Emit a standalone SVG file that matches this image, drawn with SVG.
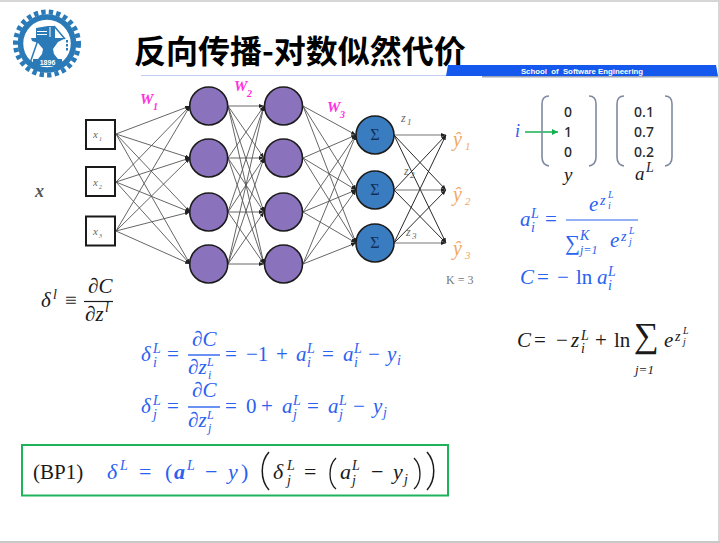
<svg xmlns="http://www.w3.org/2000/svg" width="720" height="543" viewBox="0 0 720 543">
<defs>
<marker id="ah" markerWidth="6" markerHeight="5" refX="5" refY="2" orient="auto" markerUnits="userSpaceOnUse"><path d="M0,0L5,2L0,4z" fill="#222"/></marker>
<marker id="gh" markerWidth="7" markerHeight="7" refX="6" refY="3" orient="auto" markerUnits="userSpaceOnUse"><path d="M0,0L6,3L0,6z" fill="#14b050"/></marker>
</defs>
<style>
text{font-family:"Liberation Serif","DejaVu Serif",serif}
.m{font-style:italic;font-size:21px}
.s{font-style:italic;font-size:14px}
.b{fill:#2a62f0}
.k{fill:#1a1a1a}
.r{font-style:normal}
.w{font-style:italic;font-weight:bold;font-size:15px;fill:#ff30e0}
.ws{font-style:italic;font-weight:bold;font-size:10px;fill:#ff30e0}
.sq{fill:#fff;stroke:#1a1a1a;stroke-width:2}
.p{fill:#8a72bd;stroke:#1c1c1c;stroke-width:1.6}
.u{fill:#3a7cc0;stroke:#1c1c1c;stroke-width:1.6}
.sig{font-size:16px;fill:#12305a;text-anchor:middle}
.xl{font-style:italic;font-size:11px;fill:#666}
.xs{font-style:italic;font-size:6px;fill:#666}
.z{font-style:italic;font-size:12px;fill:#666}
.zs{font-style:italic;font-size:9px;fill:#666}
.yh{font-style:italic;font-size:20px;fill:#f2a860}
.ys{font-style:italic;font-size:11px;fill:#f2a860}
.n{font-family:"Noto Sans","Open Sans",sans-serif;font-size:14px;font-weight:500;fill:#2a2a2a;text-anchor:middle}
.c line{stroke:#555;stroke-width:.9;marker-end:url(#ah)}
.c2 line{stroke:#111;stroke-width:.9;marker-end:url(#ah)}
.br{fill:none;stroke:#7f8aa0;stroke-width:1.6}
.bar{stroke-width:1.2}
</style>

<rect width="720" height="543" fill="#fff"/>
<rect width="720" height="2" fill="#d6d6d6"/>
<rect x="718" width="2" height="543" fill="#d6d6d6"/>
<rect y="541" width="720" height="2" fill="#c8c8c8"/>

<g id="logo">
<circle cx="47" cy="43.500" r="31.500" fill="none" stroke="#2a7ab8" stroke-width="5" stroke-dasharray="4.300 3.200"/>
<circle cx="47" cy="43.500" r="26.500" fill="none" stroke="#2a7ab8" stroke-width="5.500"/>
<path d="M36,28L48,26H55V38H36z" fill="#2a7ab8"/>
<path d="M37,31.500H47M37,34.500H47M50,27V37" stroke="#fff" stroke-width="1"/>
<path d="M54,26L65,39" stroke="#2a7ab8" stroke-width="1.500"/>
<path d="M31,38H66L58,42L53,49L54,54L58,59H38L42,54L43,49L38,43L32,41z" fill="#2a7ab8"/>
<path d="M38,40L30,63" stroke="#2a7ab8" stroke-width="1.500"/>
<path d="M30,62L36,66" stroke="#2a7ab8" stroke-width="3"/>
<path d="M67,40V52" stroke="#2a7ab8" stroke-width="2" stroke-dasharray="2.500 1.500"/>
<rect x="33" y="59" width="29" height="7" fill="#2a7ab8"/>
<text x="47.500" y="65" font-size="7" font-weight="bold" fill="#fff" text-anchor="middle" style="font-family:'Liberation Sans',sans-serif">1896</text>
</g>

<g id="header">
<text x="134" y="63" font-size="32" font-weight="bold" fill="#000" style="font-family:'Noto Sans CJK SC',sans-serif">反向传播-对数似然代价</text>
<rect x="141" y="75" width="306" height="1" fill="#c2ccf0"/>
<rect x="482" y="76" width="236" height="1.500" fill="#9aa4b8"/>
<path d="M448,65H716L718,76H446z" fill="#1458ee"/>
<text x="582" y="74" font-size="7.800" font-weight="bold" fill="#fff" text-anchor="middle" xml:space="preserve" style="font-family:'Liberation Sans',sans-serif;white-space:pre">School  of  Software Engineering</text>
</g>

<g id="connectors">
<g class="c">
<line x1="116" y1="134" x2="190" y2="106"/><line x1="116" y1="134" x2="190" y2="158"/><line x1="116" y1="134" x2="190" y2="212"/><line x1="116" y1="134" x2="190" y2="264"/>
<line x1="116" y1="182" x2="190" y2="106"/><line x1="116" y1="182" x2="190" y2="158"/><line x1="116" y1="182" x2="190" y2="212"/><line x1="116" y1="182" x2="190" y2="264"/>
<line x1="116" y1="231" x2="190" y2="106"/><line x1="116" y1="231" x2="190" y2="158"/><line x1="116" y1="231" x2="190" y2="212"/><line x1="116" y1="231" x2="190" y2="264"/>
<line x1="228" y1="106" x2="264" y2="106"/><line x1="228" y1="106" x2="264" y2="158"/><line x1="228" y1="106" x2="264" y2="212"/><line x1="228" y1="106" x2="264" y2="264"/>
<line x1="228" y1="158" x2="264" y2="106"/><line x1="228" y1="158" x2="264" y2="158"/><line x1="228" y1="158" x2="264" y2="212"/><line x1="228" y1="158" x2="264" y2="264"/>
<line x1="228" y1="212" x2="264" y2="106"/><line x1="228" y1="212" x2="264" y2="158"/><line x1="228" y1="212" x2="264" y2="212"/><line x1="228" y1="212" x2="264" y2="264"/>
<line x1="228" y1="264" x2="264" y2="106"/><line x1="228" y1="264" x2="264" y2="158"/><line x1="228" y1="264" x2="264" y2="212"/><line x1="228" y1="264" x2="264" y2="264"/>
<line x1="303" y1="106" x2="356" y2="135"/><line x1="303" y1="106" x2="356" y2="190"/><line x1="303" y1="106" x2="356" y2="243"/>
<line x1="303" y1="158" x2="356" y2="135"/><line x1="303" y1="158" x2="356" y2="190"/><line x1="303" y1="158" x2="356" y2="243"/>
<line x1="303" y1="212" x2="356" y2="135"/><line x1="303" y1="212" x2="356" y2="190"/><line x1="303" y1="212" x2="356" y2="243"/>
<line x1="303" y1="264" x2="356" y2="135"/><line x1="303" y1="264" x2="356" y2="190"/><line x1="303" y1="264" x2="356" y2="243"/>
</g>
<g class="c2">
<line x1="394" y1="135" x2="446" y2="135" style="stroke:#777;stroke-width:1.2"/><line x1="394" y1="135" x2="446" y2="190"/><line x1="394" y1="135" x2="446" y2="243"/>
<line x1="394" y1="190" x2="446" y2="135"/><line x1="394" y1="190" x2="446" y2="190" style="stroke:#777;stroke-width:1.2"/><line x1="394" y1="190" x2="446" y2="243"/>
<line x1="394" y1="243" x2="446" y2="135"/><line x1="394" y1="243" x2="446" y2="190"/><line x1="394" y1="243" x2="446" y2="243" style="stroke:#777;stroke-width:1.2"/>
</g>
<line x1="525" y1="132" x2="558" y2="132" stroke="#14b050" stroke-width="1.400" marker-end="url(#gh)"/>
</g>

<g id="x1"><rect class="sq" x="86" y="120" width="29" height="29"/><text class="xl" x="93" y="138">x</text><text class="xs" x="99" y="141">1</text></g>
<g id="x2"><rect class="sq" x="86" y="167" width="29" height="29"/><text class="xl" x="93" y="186">x</text><text class="xs" x="99" y="189">2</text></g>
<g id="x3"><rect class="sq" x="86" y="216.500" width="29" height="29"/><text class="xl" x="93" y="235">x</text><text class="xs" x="99" y="238">3</text></g>
<g id="h11"><circle class="p" cx="208.700" cy="106" r="19"/></g>
<g id="h12"><circle class="p" cx="208.700" cy="158" r="19"/></g>
<g id="h13"><circle class="p" cx="208.700" cy="212" r="19"/></g>
<g id="h14"><circle class="p" cx="208.700" cy="264" r="19"/></g>
<g id="h21"><circle class="p" cx="283.500" cy="106" r="19"/></g>
<g id="h22"><circle class="p" cx="283.500" cy="158" r="19"/></g>
<g id="h23"><circle class="p" cx="283.500" cy="212" r="19"/></g>
<g id="h24"><circle class="p" cx="283.500" cy="264" r="19"/></g>
<g id="o1"><circle class="u" cx="375" cy="135" r="19"/><text class="sig" x="375" y="140">Σ</text></g>
<g id="o2"><circle class="u" cx="375" cy="190" r="19"/><text class="sig" x="375" y="195">Σ</text></g>
<g id="o3"><circle class="u" cx="375" cy="243" r="19"/><text class="sig" x="375" y="248">Σ</text></g>

<g id="net-labels">
<text class="w" x="140" y="104">W</text><text class="ws" x="153" y="110">1</text>
<text class="w" x="234" y="91">W</text><text class="ws" x="247" y="97">2</text>
<text class="w" x="327" y="112">W</text><text class="ws" x="340" y="118">3</text>
<text class="z" x="401" y="122">z</text><text class="zs" x="407" y="125">1</text>
<text class="z" x="404" y="175">z</text><text class="zs" x="410" y="178">2</text>
<text class="z" x="406" y="236">z</text><text class="zs" x="412" y="239">3</text>
<text class="yh" x="453" y="146">ŷ</text><text class="ys" x="465" y="150">1</text>
<text class="yh" x="453" y="201">ŷ</text><text class="ys" x="465" y="205">2</text>
<text class="yh" x="453" y="255">ŷ</text><text class="ys" x="465" y="259">3</text>
<text x="446" y="284" font-size="12" fill="#777">K = 3</text>
<text x="35" y="197" font-size="18" font-style="italic" font-weight="bold" fill="#555">x</text>
</g>

<g id="vectors">
<path class="br" d="M549,96C544,96 542,99 542,104V157C542,162 544,165 549,166"/>
<path class="br" d="M589,96C594,96 596,99 596,104V157C596,162 594,165 589,166"/>
<path class="br" d="M624,96C619,96 617,99 617,104V157C617,162 619,165 624,166"/>
<path class="br" d="M665,96C670,96 672,99 672,104V157C672,162 670,165 665,166"/>
<text class="n" x="568" y="117">0</text><text class="n" x="568" y="137">1</text><text class="n" x="568" y="157">0</text>
<text class="n" x="644" y="117">0.1</text><text class="n" x="644" y="137">0.7</text><text class="n" x="644" y="157">0.2</text>
<text class="m b" x="515" y="137" style="font-size:18px">i</text>
<text class="m k" x="564" y="181" style="font-size:19px">y</text>
<text class="m k" x="635" y="180" style="font-size:19px">a</text><text class="s k" x="646" y="172">L</text>
</g>

<g id="softmax">
<text class="m b" x="520" y="226">a</text><text class="s b" x="531" y="218">L</text><text class="s b" x="531" y="232">i</text>
<text class="m b r" x="545" y="226">=</text>
<line class="bar" x1="566" y1="220" x2="638" y2="220" stroke="#2a62f0"/>
<text class="m b" x="589" y="211">e</text><text class="s b" x="600" y="205">z</text><text class="s b" style="font-size:10px" x="608" y="198">L</text><text class="s b" style="font-size:10px" x="608" y="209">i</text>
<text class="m b r" x="565" y="250">∑</text><text class="s b" x="580" y="240">K</text><text class="s b" style="font-size:12px" x="580" y="254">j=1</text>
<text class="m b" x="610" y="247">e</text><text class="s b" x="621" y="241">z</text><text class="s b" style="font-size:10px" x="629" y="234">L</text><text class="s b" style="font-size:10px" x="629" y="245">j</text>
<text class="m b" x="520" y="284">C</text><text class="m b r" x="537" y="284">=</text><text class="m b r" x="557" y="284">−</text><text class="m b r" x="576" y="284">ln</text><text class="m b" x="597" y="284">a</text><text class="s b" x="608" y="276">L</text><text class="s b" x="608" y="290">i</text>
</g>

<g id="cost">
<text class="m k" x="517" y="347">C</text><text class="m k r" x="534" y="347">=</text><text class="m k r" x="556" y="347">−</text><text class="m k" x="571" y="347">z</text><text class="s k" x="581" y="340">L</text><text class="s k" x="581" y="353">i</text>
<text class="m k r" x="595" y="347">+</text><text class="m k r" x="614" y="347">ln</text>
<text class="k" x="634" y="347" font-size="35">∑</text>
<text class="s k" style="font-size:13px" x="635" y="374">j=1</text>
<text class="m k" x="664" y="347">e</text><text class="s k" x="675" y="341">z</text><text class="s k" style="font-size:10px" x="683" y="334">L</text><text class="s k" style="font-size:10px" x="683" y="345">j</text>
</g>

<g id="delta-def">
<text class="m k" x="41" y="307">δ</text><text class="s k" x="53" y="299">l</text>
<text class="m k r" x="65" y="307">≡</text>
<line class="bar" x1="84" y1="301.500" x2="113" y2="301.500" stroke="#1a1a1a"/>
<text class="m k" x="88" y="293">∂C</text>
<text class="m k" x="85" y="321">∂z</text><text class="s k" x="105" y="312">l</text>
</g>

<g id="delta-i">
<text class="m b" x="141" y="361">δ</text><text class="s b" x="153" y="353">L</text><text class="s b" x="153" y="367">i</text>
<text class="m b r" x="167" y="361">=</text>
<line x1="188" y1="355" x2="220" y2="355" stroke="#2a62f0" stroke-width="1.400"/>
<text class="m b" x="192" y="346">∂C</text>
<text class="m b" x="188" y="374">∂z</text><text class="s b" x="207" y="366" style="font-size:12px">L</text><text class="s b" x="208" y="379" style="font-size:12px">i</text>
<text class="m b r" x="225" y="361">=</text><text class="m b r" x="246" y="361">−1</text><text class="m b r" x="276" y="361">+</text>
<text class="m b" x="296" y="361">a</text><text class="s b" x="307" y="353">L</text><text class="s b" x="307" y="367">i</text>
<text class="m b r" x="322" y="361">=</text>
<text class="m b" x="343" y="361">a</text><text class="s b" x="354" y="353">L</text><text class="s b" x="354" y="367">i</text>
<text class="m b r" x="368" y="361">−</text>
<text class="m b" x="387" y="361">y</text><text class="s b" x="397" y="365">i</text>
</g>

<g id="delta-j">
<text class="m b" x="141" y="413">δ</text><text class="s b" x="153" y="405">L</text><text class="s b" x="153" y="419">j</text>
<text class="m b r" x="167" y="413">=</text>
<line x1="188" y1="407" x2="220" y2="407" stroke="#2a62f0" stroke-width="1.400"/>
<text class="m b" x="192" y="397">∂C</text>
<text class="m b" x="188" y="427">∂z</text><text class="s b" x="207" y="419" style="font-size:12px">L</text><text class="s b" x="208" y="432" style="font-size:12px">j</text>
<text class="m b r" x="225" y="413">=</text><text class="m b r" x="246" y="413">0</text><text class="m b r" x="261" y="413">+</text>
<text class="m b" x="282" y="413">a</text><text class="s b" x="293" y="405">L</text><text class="s b" x="293" y="419">j</text>
<text class="m b r" x="307" y="413">=</text>
<text class="m b" x="328" y="413">a</text><text class="s b" x="339" y="405">L</text><text class="s b" x="339" y="419">j</text>
<text class="m b r" x="353" y="413">−</text>
<text class="m b" x="373" y="413">y</text><text class="s b" x="383" y="417">j</text>
</g>

<g id="bp1">
<rect x="22" y="445" width="426" height="50.500" fill="#fff" stroke="#1fb45c" stroke-width="2"/>
<text x="33" y="479" font-size="21" fill="#1a1a1a">(BP1)</text>
<text class="m b" x="107" y="479" style="font-size:22px">δ</text><text class="s b" x="120" y="470">L</text>
<text class="m b r" x="139" y="479" style="font-size:22px">=</text>
<text class="m b r" x="165" y="479" style="font-size:22px">(</text>
<text class="m b" x="174" y="479" style="font-size:22px;font-weight:bold">a</text><text class="s b" x="187" y="470">L</text>
<text class="m b r" x="205" y="479" style="font-size:22px">−</text>
<text class="m b" x="228" y="479" style="font-size:22px">y</text>
<text class="m b r" x="241" y="479" style="font-size:22px">)</text>
<path d="M269,452C260,462 260,480 269,490" fill="none" stroke="#1a1a1a" stroke-width="1.500"/>
<text class="m k" x="273" y="479" style="font-size:22px">δ</text><text class="s k" x="287" y="470">L</text><text class="s k" x="287" y="485">j</text>
<text class="m k r" x="304" y="479" style="font-size:22px">=</text>
<path d="M336,458C328,466 328,482 336,489" fill="none" stroke="#1a1a1a" stroke-width="1.300"/>
<text class="m k" x="340" y="479" style="font-size:22px">a</text><text class="s k" x="352" y="470">L</text><text class="s k" x="352" y="485">j</text>
<text class="m k r" x="371" y="479" style="font-size:22px">−</text>
<text class="m k" x="393" y="479" style="font-size:22px">y</text><text class="s k" x="404" y="484">j</text>
<path d="M414,458C422,466 422,482 414,489" fill="none" stroke="#1a1a1a" stroke-width="1.300"/>
<path d="M427,452C436,462 436,480 427,490" fill="none" stroke="#1a1a1a" stroke-width="1.500"/>
</g>
</svg>
